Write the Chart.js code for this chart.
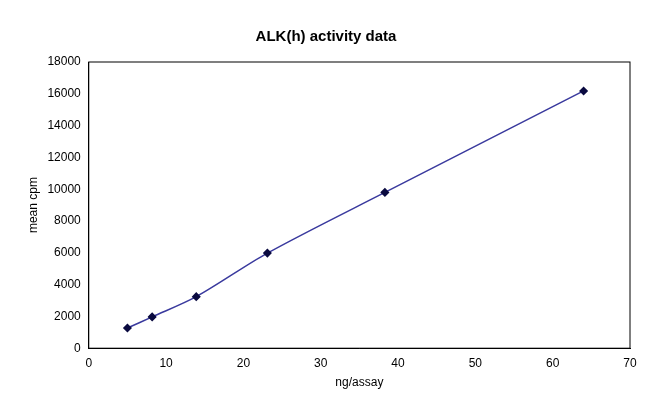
<!DOCTYPE html>
<html><head><script src="https://cdn.jsdelivr.net/npm/chart.js@4"></script>
<style>html,body{margin:0;padding:0;background:#fff}#w{width:650px;height:406px}</style></head>
<body><div id="w"><canvas id="c"></canvas></div>
<script>
const xValues=[5,8.2,13.9,23.1,38.3,64];
const yValues=[1270,1970,3240,5980,9800,16180];
const frame={id:'frame',afterDraw(ch){const a=ch.chartArea,x=ch.ctx;x.save();x.strokeStyle='#000';x.lineWidth=1;x.strokeRect(a.left,a.top,a.right-a.left,a.bottom-a.top);x.restore();}};
new Chart(document.getElementById('c'),{type:'scatter',
data:{datasets:[{data:xValues.map((v,i)=>({x:v,y:yValues[i]})),showLine:true,borderColor:'#3a3a9e',borderWidth:1.5,pointStyle:'rectRot',pointRadius:3.5,pointBackgroundColor:'#0a0a40',pointBorderColor:'#0a0a40',tension:0.3}]},
options:{responsive:true,maintainAspectRatio:false,animation:false,
layout:{padding:{left:22,right:20,top:8,bottom:12}},
plugins:{legend:{display:false},title:{display:true,text:'ALK(h) activity data',color:'#000',font:{family:'Liberation Sans',size:15,weight:'bold'},padding:{top:20,bottom:16}}},
scales:{x:{type:'linear',min:0,max:70,ticks:{stepSize:10,color:'#000',font:{family:'Liberation Sans',size:12}},grid:{display:false,tickLength:5,tickColor:'#000'},border:{color:'#000'},title:{display:true,text:'ng/assay',color:'#000',font:{family:'Liberation Sans',size:12},padding:{top:2}}},
y:{min:0,max:18000,ticks:{stepSize:2000,color:'#000',font:{family:'Liberation Sans',size:12},callback:v=>String(v)},grid:{display:false,tickLength:5,tickColor:'#000'},border:{color:'#000'},title:{display:true,text:'mean cpm',color:'#000',font:{family:'Liberation Sans',size:12}}}}},
plugins:[frame]});
</script></body></html>
